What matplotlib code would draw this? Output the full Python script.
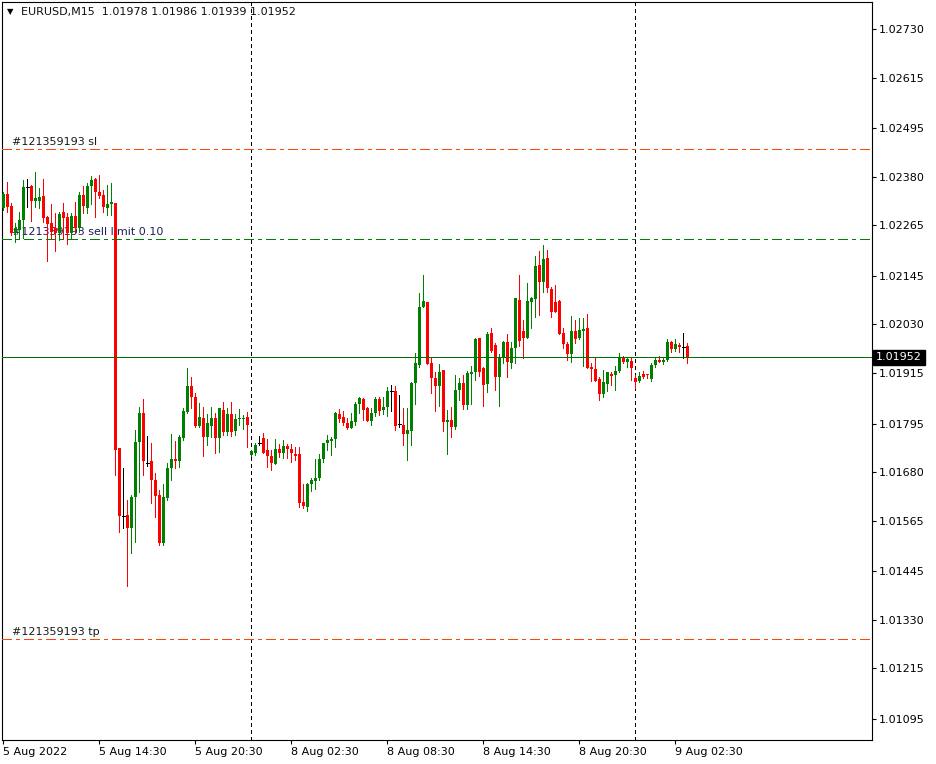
#!/usr/bin/env python3
# -*- coding: utf-8 -*-

import matplotlib
matplotlib.use('Agg')
import matplotlib.pyplot as plt
import matplotlib.transforms as mtransforms
import numpy as np
import pandas as pd

symbol = 'EURUSD,M15'
order_id = '#121359193'

# EURUSD M15 bars, 5 Aug 2022 08:30 -> 9 Aug 2022 03:15
opens = [
    1.02306, 1.02339, 1.02311, 1.02247, 1.02254, 1.02277, 1.02355, 1.02358, 1.02323, 1.02323,
    1.02335, 1.02284, 1.02270, 1.02258, 1.02247, 1.02296, 1.02284, 1.02247, 1.02287, 1.02258,
    1.02337, 1.02306, 1.02358, 1.02374, 1.02343, 1.02337, 1.02306, 1.02315, 1.02318, 1.01737,
    1.01576, 1.01578, 1.01547, 1.01621, 1.01751, 1.01820, 1.01702, 1.01706, 1.01661, 1.01626,
    1.01512, 1.01618, 1.01690, 1.01711, 1.01706, 1.01761, 1.01822, 1.01884, 1.01858, 1.01789,
    1.01808, 1.01763, 1.01789, 1.01808, 1.01761, 1.01827, 1.01775, 1.01818, 1.01778, 1.01806,
    1.01806, 1.01810, 1.01720, 1.01725, 1.01749, 1.01761, 1.01732, 1.01718, 1.01699, 1.01735,
    1.01725, 1.01742, 1.01735, 1.01723, 1.01723, 1.01609, 1.01597, 1.01652, 1.01659, 1.01666,
    1.01711, 1.01749, 1.01754, 1.01758, 1.01818, 1.01810, 1.01796, 1.01785, 1.01799, 1.01841,
    1.01853, 1.01832, 1.01801, 1.01820, 1.01853, 1.01827, 1.01834, 1.01872, 1.01872, 1.01794,
    1.01791, 1.01770, 1.01778, 1.01891, 1.01934, 1.02071, 1.02083, 1.01939, 1.01903, 1.01884,
    1.01922, 1.01799, 1.01803, 1.01787, 1.01874, 1.01891, 1.01839, 1.01912, 1.01917, 1.01998,
    1.01927, 1.01889, 1.02010, 1.01981, 1.01905, 1.01953, 1.01988, 1.01939, 1.01974, 1.02088,
    1.02014, 1.01998, 1.02083, 1.02090, 1.02171, 1.02130, 1.02187, 1.02114, 1.02083, 1.02085,
    1.02010, 1.01984, 1.01960, 1.02014, 1.01998, 1.02014, 1.02021, 1.01929, 1.01924, 1.01901,
    1.01865, 1.01889, 1.01912, 1.01910, 1.01919, 1.01953, 1.01941, 1.01943, 1.01903, 1.01896,
    1.01912, 1.01912, 1.01901, 1.01934, 1.01946, 1.01941, 1.01946, 1.01988, 1.01972, 1.01981,
    1.01977, 1.01978,
]
highs = [
    1.02343, 1.02367, 1.02318, 1.02270, 1.02296, 1.02372, 1.02374, 1.02360, 1.02391, 1.02353,
    1.02374, 1.02287, 1.02315, 1.02294, 1.02296, 1.02318, 1.02294, 1.02294, 1.02320, 1.02343,
    1.02358, 1.02365, 1.02381, 1.02377, 1.02384, 1.02348, 1.02360, 1.02365, 1.02318, 1.01737,
    1.01690, 1.01614, 1.01626, 1.01780, 1.01834, 1.01853, 1.01766, 1.01749, 1.01678, 1.01637,
    1.01652, 1.01702, 1.01770, 1.01754, 1.01768, 1.01832, 1.01927, 1.01905, 1.01867, 1.01844,
    1.01834, 1.01818, 1.01834, 1.01820, 1.01832, 1.01846, 1.01832, 1.01846, 1.01818, 1.01829,
    1.01815, 1.01822, 1.01732, 1.01749, 1.01766, 1.01773, 1.01758, 1.01732, 1.01758, 1.01746,
    1.01756, 1.01746, 1.01746, 1.01739, 1.01739, 1.01652, 1.01654, 1.01666, 1.01711, 1.01723,
    1.01749, 1.01768, 1.01763, 1.01822, 1.01829, 1.01825, 1.01808, 1.01820, 1.01846, 1.01858,
    1.01855, 1.01834, 1.01832, 1.01858, 1.01858, 1.01858, 1.01881, 1.01886, 1.01884, 1.01862,
    1.01832, 1.01832, 1.01893, 1.01963, 1.02105, 1.02147, 1.02083, 1.01953, 1.01917, 1.01936,
    1.01922, 1.01827, 1.01834, 1.01910, 1.01903, 1.01910, 1.01919, 1.01931, 1.01998, 1.01998,
    1.01929, 1.02012, 1.02021, 1.01986, 1.01960, 1.01991, 1.02007, 1.01988, 1.02093, 1.02147,
    1.02040, 1.02128, 1.02095, 1.02192, 1.02204, 1.02218, 1.02206, 1.02119, 1.02123, 1.02088,
    1.02021, 1.01988, 1.02050, 1.02040, 1.02045, 1.02045, 1.02055, 1.01939, 1.01953, 1.01905,
    1.01922, 1.01917, 1.01917, 1.01931, 1.01962, 1.01955, 1.01953, 1.01950, 1.01910, 1.01917,
    1.01919, 1.01912, 1.01939, 1.01953, 1.01955, 1.01950, 1.01995, 1.01991, 1.01995, 1.01986,
    1.02010, 1.01986,
]
lows = [
    1.02301, 1.02296, 1.02242, 1.02225, 1.02235, 1.02235, 1.02308, 1.02275, 1.02308, 1.02306,
    1.02272, 1.02181, 1.02235, 1.02204, 1.02230, 1.02235, 1.02221, 1.02235, 1.02249, 1.02249,
    1.02294, 1.02294, 1.02315, 1.02284, 1.02330, 1.02296, 1.02289, 1.02289, 1.01673, 1.01538,
    1.01547, 1.01409, 1.01488, 1.01514, 1.01633, 1.01673, 1.01695, 1.01607, 1.01573, 1.01507,
    1.01507, 1.01614, 1.01661, 1.01690, 1.01692, 1.01756, 1.01820, 1.01832, 1.01787, 1.01787,
    1.01718, 1.01744, 1.01763, 1.01725, 1.01727, 1.01768, 1.01768, 1.01766, 1.01768, 1.01791,
    1.01782, 1.01739, 1.01718, 1.01720, 1.01744, 1.01725, 1.01692, 1.01685, 1.01699, 1.01716,
    1.01713, 1.01713, 1.01704, 1.01709, 1.01597, 1.01595, 1.01588, 1.01635, 1.01640, 1.01661,
    1.01704, 1.01732, 1.01720, 1.01739, 1.01799, 1.01791, 1.01782, 1.01785, 1.01791, 1.01820,
    1.01803, 1.01801, 1.01791, 1.01813, 1.01815, 1.01818, 1.01813, 1.01825, 1.01780, 1.01787,
    1.01744, 1.01709, 1.01744, 1.01841, 1.01929, 1.02071, 1.01936, 1.01867, 1.01825, 1.01836,
    1.01778, 1.01723, 1.01763, 1.01782, 1.01851, 1.01829, 1.01829, 1.01841, 1.01898, 1.01908,
    1.01836, 1.01870, 1.01965, 1.01874, 1.01836, 1.01939, 1.01905, 1.01927, 1.01939, 1.01979,
    1.01951, 1.01998, 1.02021, 1.02047, 1.02052, 1.02107, 1.02107, 1.02047, 1.02059, 1.02007,
    1.01974, 1.01946, 1.01941, 1.01986, 1.01995, 1.01931, 1.01927, 1.01896, 1.01896, 1.01851,
    1.01858, 1.01872, 1.01886, 1.01874, 1.01917, 1.01939, 1.01929, 1.01898, 1.01879, 1.01893,
    1.01903, 1.01903, 1.01896, 1.01929, 1.01941, 1.01936, 1.01943, 1.01965, 1.01967, 1.01965,
    1.01951, 1.01939,
]
closes = [
    1.02339, 1.02308, 1.02247, 1.02258, 1.02277, 1.02355, 1.02355, 1.02323, 1.02330, 1.02332,
    1.02282, 1.02268, 1.02249, 1.02247, 1.02292, 1.02282, 1.02247, 1.02287, 1.02258, 1.02337,
    1.02311, 1.02358, 1.02372, 1.02343, 1.02335, 1.02308, 1.02315, 1.02320, 1.01732, 1.01576,
    1.01576, 1.01547, 1.01621, 1.01751, 1.01820, 1.01706, 1.01702, 1.01661, 1.01623, 1.01512,
    1.01621, 1.01690, 1.01711, 1.01706, 1.01763, 1.01825, 1.01884, 1.01858, 1.01789, 1.01810,
    1.01763, 1.01796, 1.01808, 1.01761, 1.01832, 1.01775, 1.01818, 1.01775, 1.01806, 1.01808,
    1.01808, 1.01791, 1.01730, 1.01744, 1.01749, 1.01725, 1.01718, 1.01702, 1.01735, 1.01725,
    1.01742, 1.01735, 1.01725, 1.01718, 1.01607, 1.01600, 1.01652, 1.01661, 1.01666, 1.01711,
    1.01749, 1.01756, 1.01758, 1.01820, 1.01806, 1.01796, 1.01785, 1.01801, 1.01841, 1.01855,
    1.01827, 1.01801, 1.01820, 1.01853, 1.01825, 1.01834, 1.01872, 1.01872, 1.01789, 1.01794,
    1.01770, 1.01780, 1.01891, 1.01939, 1.02071, 1.02085, 1.01936, 1.01903, 1.01884, 1.01917,
    1.01799, 1.01803, 1.01787, 1.01874, 1.01891, 1.01839, 1.01915, 1.01917, 1.01995, 1.01917,
    1.01886, 1.02007, 1.01967, 1.01905, 1.01953, 1.01988, 1.01941, 1.01974, 1.02093, 1.01991,
    1.01998, 1.02085, 1.02093, 1.02168, 1.02130, 1.02185, 1.02116, 1.02059, 1.02059, 1.02007,
    1.01984, 1.01960, 1.02014, 1.01995, 1.02017, 1.02019, 1.01927, 1.01924, 1.01896, 1.01865,
    1.01893, 1.01917, 1.01908, 1.01919, 1.01953, 1.01941, 1.01948, 1.01927, 1.01893, 1.01908,
    1.01905, 1.01910, 1.01934, 1.01946, 1.01941, 1.01946, 1.01988, 1.01972, 1.01984, 1.01977,
    1.01977, 1.01952,
]

sl_price = 1.02446
limit_price = 1.02232
limit_lots = 0.10
tp_price = 1.01284
bid_price = 1.01952

price_ticks = [1.02730, 1.02615, 1.02495, 1.02380, 1.02265, 1.02145, 1.02030, 1.01915,
               1.01795, 1.01680, 1.01565, 1.01445, 1.01330, 1.01215, 1.01095]

UP = '#008000'
DOWN = '#ff0000'
FLAT = '#000000'
ORDER_RED = '#ff4500'
PX = 0.72  # one pixel at 100 dpi, in points


def bar_times():
    # friday session, then monday and the start of tuesday
    parts = [pd.date_range('2022-08-05 08:30', '2022-08-05 23:45', freq='15min'),
             pd.date_range('2022-08-08 00:00', '2022-08-08 23:45', freq='15min'),
             pd.date_range('2022-08-09 00:00', '2022-08-09 03:15', freq='15min')]
    return parts[0].append(parts[1]).append(parts[2])


def draw_candles(ax, xs):
    o = np.array(opens)
    h = np.array(highs)
    l = np.array(lows)
    c = np.array(closes)
    flat = np.isclose(o, c)
    colors = np.where(flat, FLAT, np.where(c > o, UP, DOWN))

    ax.vlines(xs, l, h, colors=colors, linewidth=PX, antialiased=False, zorder=3)
    m = ~flat
    body_h = np.maximum(np.abs(c - o), 0.000024)
    ax.bar(xs[m], body_h[m], bottom=np.minimum(o, c)[m], width=0.75,
           color=colors[m], linewidth=0, antialiased=False, zorder=3)
    ax.hlines(o[flat], xs[flat] - 0.4, xs[flat] + 0.4, colors=FLAT, linewidth=PX,
              antialiased=False, zorder=3)


def order_line(ax, price, color, label, label_color):
    ax.axhline(price, color=color, linewidth=PX, linestyle=(0, (10, 5, 3, 5)),
               antialiased=False, zorder=4)
    # label sits under the candles, like in the terminal
    ax.annotate(label, xy=(0.0115, price), xycoords=('axes fraction', 'data'),
                xytext=(0, 1.5), textcoords='offset points', va='bottom', ha='left',
                fontsize=8, color=label_color, zorder=2)


def createGraph(outfile):
    times = bar_times()
    xs = np.arange(len(opens))

    fig = plt.figure(figsize=(9.36, 7.64), dpi=100)
    ax = fig.add_axes([2 / 936, 24 / 764, 870 / 936, 738 / 764])

    draw_candles(ax, xs)

    # day separators
    for i in range(1, len(times)):
        if times[i].date() != times[i - 1].date():
            ax.axvline(xs[i], color='black', linewidth=PX, linestyle=(0, (4, 4)),
                       antialiased=False, zorder=2)

    order_line(ax, sl_price, ORDER_RED, f'{order_id} sl', '#1a1a1a')
    order_line(ax, limit_price, UP, f'{order_id} sell limit {limit_lots:.2f}', '#1e1e58')
    order_line(ax, tp_price, ORDER_RED, f'{order_id} tp', '#1a1a1a')

    ax.axhline(bid_price, color='#007000', linewidth=PX, antialiased=False, zorder=4)

    ax.set_xlim(-0.33, 217.18)
    ax.set_ylim(1.01045, 1.02794)

    ax.yaxis.tick_right()
    ax.set_yticks(price_ticks)
    ax.set_yticklabels([f'{p:.5f}' for p in price_ticks])
    ax.tick_params(axis='y', direction='out', length=3, width=0.8, pad=2, labelsize=8)

    tick_idx = list(range(0, len(times), 24))
    tick_lbl = []
    for i in tick_idx:
        t = times[i]
        if i == 0:
            tick_lbl.append(f'{t.day} {t:%b %Y}')
        else:
            tick_lbl.append(f'{t.day} {t:%b %H:%M}')
    ax.set_xticks(tick_idx)
    ax.set_xticklabels(tick_lbl, ha='left')
    ax.tick_params(axis='x', direction='out', length=3, width=0.8, pad=2, labelsize=8)

    for sp in ax.spines.values():
        sp.set_linewidth(0.8)
        sp.set_color('black')

    # current bid tag on the price scale
    trans = mtransforms.blended_transform_factory(ax.transAxes, ax.transData)
    ax.text(1.0 + 4 / 870, bid_price, f'{bid_price:.5f}', transform=trans, ha='left', va='center',
            fontsize=8, color='white', clip_on=False, zorder=6,
            bbox=dict(boxstyle='square,pad=0.25', fc='black', ec='black'))

    # header with last bar OHLC
    ax.text(5 / 870, 1 - 10 / 738, '\u25bc', transform=ax.transAxes, ha='left', va='center',
            fontsize=6, color='black')
    ax.text(19 / 870, 1 - 10 / 738,
            f'{symbol}  {opens[-1]:.5f} {highs[-1]:.5f} {lows[-1]:.5f} {closes[-1]:.5f}',
            transform=ax.transAxes, ha='left', va='center', fontsize=8, color='#101010')

    fig.savefig(outfile, dpi=100, facecolor='white')


def main():
    createGraph('out.png')
    print('All Done.')


if __name__ == "__main__":
    main()
